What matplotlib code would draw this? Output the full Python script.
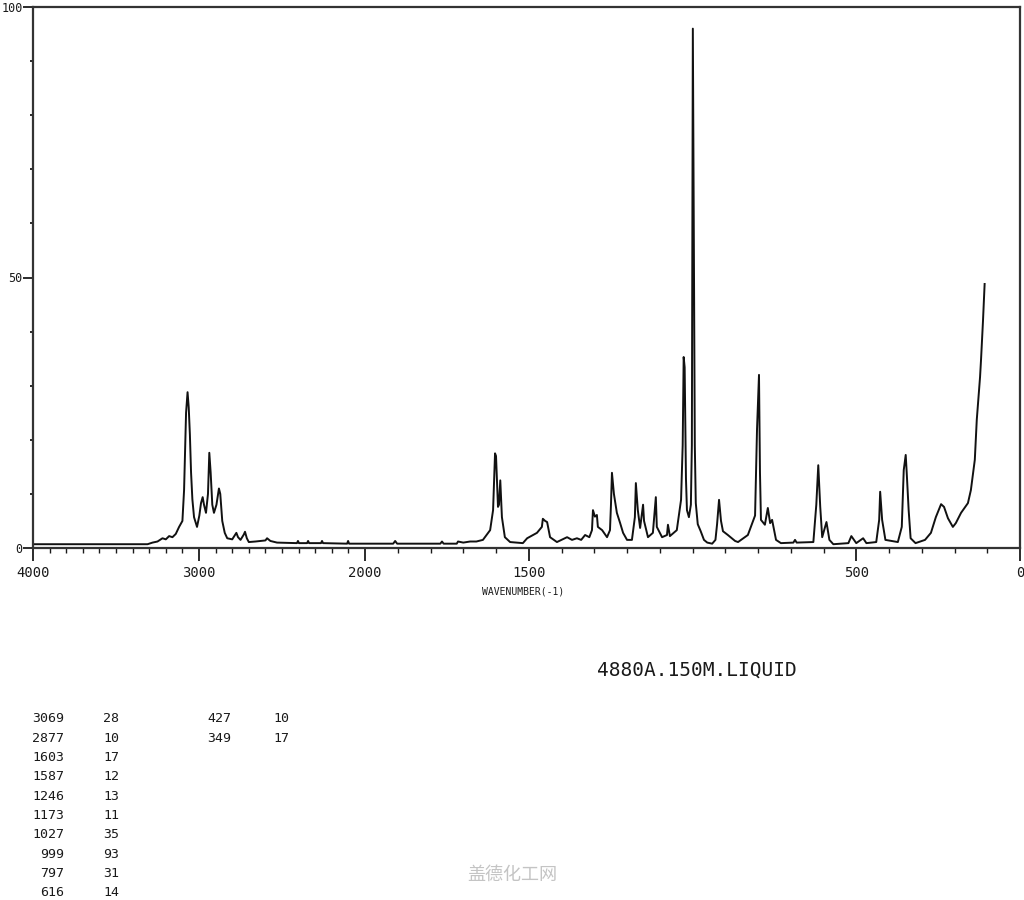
import numpy as np
import matplotlib
matplotlib.use("Agg")
import matplotlib.pyplot as plt
import matplotlib.ticker as mticker

# spectrum trace (wavenumber, relative intensity)
spec_wn = [4000, 3500, 3310, 3280, 3250, 3220, 3200, 3180, 3160, 3140, 3120, 3100,
           3090, 3078, 3069, 3062, 3055, 3048, 3040, 3030, 3012, 2998, 2988, 2978,
           2970, 2958, 2946, 2938, 2930, 2920, 2910, 2895, 2880, 2872, 2860, 2845,
           2830, 2800, 2775, 2765, 2750, 2730, 2723, 2712, 2700, 2660, 2600, 2590,
           2570, 2530, 2410, 2404, 2398, 2349, 2343, 2337, 2265, 2259, 2253, 2108,
           2102, 2096, 1914, 1908, 1902, 1770, 1765, 1760, 1720, 1716, 1700, 1679,
           1660, 1640, 1618, 1609, 1603, 1600, 1594, 1591, 1587, 1582, 1573, 1557,
           1518, 1505, 1475, 1460, 1457, 1450, 1444, 1435, 1414, 1383, 1368, 1353,
           1340, 1328, 1315, 1307, 1304, 1298, 1292, 1289, 1276, 1261, 1252, 1249,
           1246, 1240, 1231, 1221, 1212, 1200, 1185, 1176, 1173, 1167, 1160, 1151,
           1148, 1136, 1121, 1112, 1109, 1093, 1078, 1075, 1069, 1048, 1035, 1030,
           1027, 1024, 1020, 1017, 1011, 1005, 1002, 1000, 999, 997, 993, 990,
           984, 975, 965, 955, 940, 930, 925, 919, 913, 907, 892, 870, 861, 845,
           831, 815, 809, 806, 803, 797, 794, 791, 779, 770, 763, 757, 745, 730,
           692, 687, 682, 631, 622, 616, 610, 604, 598, 591, 582, 570, 524, 515,
           500, 479, 469, 439, 430, 427, 421, 411, 373, 361, 355, 349, 346, 340,
           334, 319, 290, 272, 257, 241, 232, 220, 205, 196, 180, 159, 150, 138,
           132, 122, 119, 113, 108]
spec_int = [0.7, 0.7, 0.7, 1.0, 1.2, 1.8, 1.6, 2.2, 2.0, 2.6, 3.9, 5.0,
            10.7, 25.0, 28.8, 26.0, 21.0, 14.0, 9.0, 5.7, 3.9, 6.0, 8.3, 9.4,
            8.0, 6.5, 10.0, 17.6, 14.0, 8.0, 6.5, 8.0, 11.0, 10.0, 5.0, 2.8,
            1.8, 1.6, 2.8, 2.0, 1.5, 2.5, 3.0, 1.8, 1.1, 1.2, 1.4, 1.8,
            1.3, 1.0, 0.9, 1.3, 0.9, 0.9, 1.3, 0.9, 0.9, 1.3, 0.9, 0.8,
            1.3, 0.8, 0.8, 1.3, 0.8, 0.8, 1.2, 0.8, 0.8, 1.2, 1.0, 1.2,
            1.2, 1.5, 3.3, 7.0, 17.5, 17.0, 7.6, 8.0, 12.5, 5.7, 2.0, 1.1,
            0.9, 1.8, 2.8, 3.9, 5.4, 5.0, 4.8, 2.0, 1.1, 2.0, 1.5, 1.8,
            1.5, 2.4, 2.0, 3.3, 7.0, 5.8, 6.1, 3.9, 3.3, 2.0, 3.3, 8.0,
            13.9, 10.0, 6.5, 4.6, 2.8, 1.5, 1.5, 5.7, 12.0, 7.0, 3.7, 8.0,
            5.0, 2.0, 2.8, 9.4, 3.9, 2.0, 2.4, 4.3, 2.2, 3.3, 8.9, 19.0,
            35.3, 33.4, 12.8, 7.0, 5.7, 8.0, 19.0, 70.0, 96.0, 70.0, 19.0, 8.3,
            4.4, 3.1, 1.5, 1.0, 0.8, 1.5, 4.4, 8.9, 5.0, 3.1, 2.4, 1.3, 1.1, 1.8,
            2.4, 5.0, 6.0, 14.0, 22.0, 32.0, 13.9, 5.2, 4.3, 7.4, 4.6, 5.2, 1.5, 0.9,
            1.0, 1.5, 1.0, 1.1, 8.0, 15.3, 7.6, 2.0, 3.3, 4.8, 1.5, 0.7, 0.9, 2.2,
            0.9, 1.8, 0.9, 1.1, 5.2, 10.4, 5.2, 1.5, 1.1, 3.9, 14.4, 17.2, 14.0, 7.0,
            1.8, 0.9, 1.5, 2.8, 5.7, 8.1, 7.6, 5.5, 3.9, 4.6, 6.5, 8.3, 10.7, 16.3,
            23.7, 31.6, 34.8, 42.0, 48.8]

# peak table printed under the chart
peak_wn = [3069, 2877, 1603, 1587, 1246, 1173, 1027, 999, 797, 616, 427, 349]
peak_int = [28, 10, 17, 12, 13, 11, 35, 93, 31, 14, 10, 17]

x_major = [4000, 3000, 2000, 1500, 500, 0]
x_major_labels = ["4000", "3000", "2000", "1500", "500", "0"]
y_major = [0, 50, 100]
y_major_labels = ["0", "50", "100"]

# 4000-2000 is compressed, 2000-0 expanded
SPLIT = 0.6636


def fwd(w):
    w = np.asarray(w, dtype=float)
    return np.where(w <= 2000, w * SPLIT / 2000, SPLIT + (w - 2000) * (1 - SPLIT) / 2000)


def inv(u):
    u = np.asarray(u, dtype=float)
    return np.where(u <= SPLIT, u * 2000 / SPLIT, 2000 + (u - SPLIT) * 2000 / (1 - SPLIT))


mono = "DejaVu Sans Mono"
ink = "#1a1a1a"

fig = plt.figure(figsize=(10.24, 9.0), dpi=100)
fig.set_facecolor("white")
ax = fig.add_axes([33 / 1024, 1 - 548 / 900, 987 / 1024, 541 / 900])

ax.plot(spec_wn, spec_int, color="#111111", linewidth=1.4)

ax.set_xscale("function", functions=(fwd, inv))
ax.set_xlim(4000, 0)
ax.set_ylim(0, 100)

ax.xaxis.set_major_locator(mticker.FixedLocator(x_major))
ax.xaxis.set_minor_locator(mticker.FixedLocator(list(range(100, 4000, 100))))
ax.set_xticklabels(x_major_labels, fontfamily=mono, fontsize=10, color=ink)
ax.xaxis.set_minor_formatter(mticker.NullFormatter())

ax.yaxis.set_major_locator(mticker.FixedLocator(y_major))
ax.yaxis.set_minor_locator(mticker.FixedLocator(list(range(10, 100, 10))))
ax.set_yticklabels(y_major_labels, fontfamily=mono, fontsize=8.5, color=ink)
ax.yaxis.set_minor_formatter(mticker.NullFormatter())

ax.tick_params(axis="x", which="major", direction="out", length=9.5, width=1.3, pad=3.5, colors=ink)
ax.tick_params(axis="x", which="minor", direction="out", length=3.5, width=1.0, colors=ink)
ax.tick_params(axis="y", which="major", direction="out", length=7, width=1.3, pad=0.5, colors=ink)
ax.tick_params(axis="y", which="minor", direction="out", length=2.5, width=1.3, colors=ink)

for side in ["left", "right", "top", "bottom"]:
    ax.spines[side].set_color("#333333")
    ax.spines[side].set_linewidth(1.6)

fig.text(523 / 1024, 1 - 591 / 900, "WAVENUMBER(-1)", ha="center", va="center",
         fontfamily=mono, fontsize=7, color=ink)

fig.text(597 / 1024, 1 - 670 / 900, "4880A.150M.LIQUID", ha="left", va="center",
         fontfamily=mono, fontsize=14, color=ink)

# peak table: first ten rows in the left pair of columns, the rest to the right
row_y0 = 719
row_dy = 19.3
for i, (wn, it) in enumerate(zip(peak_wn, peak_int)):
    col = i // 10
    row = i % 10
    y = 1 - (row_y0 + row * row_dy) / 900
    x_wn = (64 if col == 0 else 231) / 1024
    x_it = (119 if col == 0 else 289) / 1024
    fig.text(x_wn, y, str(wn), ha="right", va="center", fontfamily=mono, fontsize=9.5, color=ink)
    fig.text(x_it, y, str(it), ha="right", va="center", fontfamily=mono, fontsize=9.5, color=ink)

fig.text(512 / 1024, 1 - 875 / 900, "盖德化工网", ha="center", va="center",
         fontfamily=["Noto Sans CJK SC", "DejaVu Sans"], fontsize=13, color="#c4c4c4")

fig.savefig("out.png", dpi=100, facecolor="white")
plt.close(fig)
